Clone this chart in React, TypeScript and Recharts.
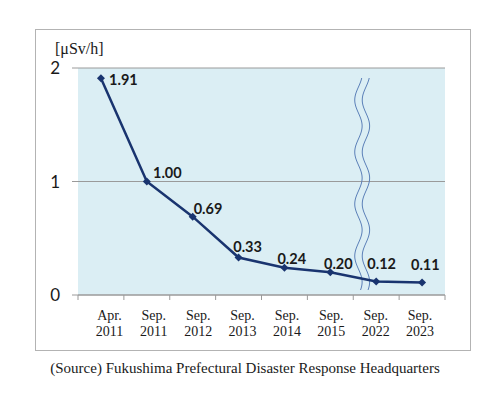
import React from 'react';
import {
  LineChart, Line, XAxis, YAxis, CartesianGrid, LabelList, ReferenceLine
} from 'recharts';

const months = ['Apr.', 'Sep.', 'Sep.', 'Sep.', 'Sep.', 'Sep.', 'Sep.', 'Sep.'];
const years = ['2011', '2011', '2012', '2013', '2014', '2015', '2022', '2023'];
const doseRates = [1.91, 1.0, 0.69, 0.33, 0.24, 0.2, 0.12, 0.11];
const yTicks = [0, 1, 2];

// hand-placed label offsets (dx, dy) from each point, like the original
const labelOffsets = [
  [22.5, 1], [20.5, -9], [15.3, -8], [9, -10.6],
  [7.3, -9], [8, -9], [5.5, -18], [3.3, -18.4],
];

const data = months.map((m, i) => ({ name: `${m} ${years[i]}`, value: doseRates[i] }));

const W = 499;
const H = 406;
const margin = { top: 68, right: 54, left: 38, bottom: 66 };
const Y_AXIS_W = 40;
const X_AXIS_H = 45;
const AXIS_Y = H - margin.bottom - X_AXIS_H;
const PLOT_W = W - margin.left - margin.right - Y_AXIS_W;
const BAND = PLOT_W / data.length;

const SERIF = '"Liberation Serif", "Times New Roman", serif';
const SANS = 'Lato, "Noto Sans", sans-serif';
const NAVY = '#19346f';
const GRID = '#9a9a9a';

const XTick = (props: any) => {
  const { x } = props;
  const i = props.index ?? props.payload?.index ?? 0;
  const dx = 8.5 - 1.5 * i;
  const left = x - BAND / 2;
  return (
    <g>
      <line x1={left} x2={left} y1={AXIS_Y} y2={AXIS_Y + 5} stroke={GRID} />
      {i === data.length - 1 && (
        <line x1={x + BAND / 2} x2={x + BAND / 2} y1={AXIS_Y} y2={AXIS_Y + 5} stroke={GRID} />
      )}
      <text textAnchor="middle" fontFamily={SERIF} fontSize={14} fill="#1a1a1a">
        <tspan x={x + dx} y={AXIS_Y + 25}>{months[i]}</tspan>
        <tspan x={x + dx} y={AXIS_Y + 41}>{years[i]}</tspan>
      </text>
    </g>
  );
};

const Diamond = (props: any) => {
  const { cx, cy, index } = props;
  if (cx == null || cy == null) return <g key={`d-${index}`} />;
  const r = 4;
  return (
    <polygon
      key={`d-${index}`}
      points={`${cx},${cy - r} ${cx + r},${cy} ${cx},${cy + r} ${cx - r},${cy}`}
      fill={NAVY}
    />
  );
};

const ValueLabel = (props: any) => {
  const { x, y, value, index } = props;
  const [dx, dy] = labelOffsets[index] || [0, -10];
  return (
    <text
      x={x + dx}
      y={y + dy}
      textAnchor="middle"
      dominantBaseline="central"
      fontFamily={SANS}
      fontWeight="bold"
      fontSize={14.5}
      fill="#1a1a1a"
    >
      {Number(value).toFixed(2)}
    </text>
  );
};

// axis break drawn as two wavy lines just left of "Sep. 2022"
const WaveBreak = (props: any) => {
  const { x1, y1, y2 } = props;
  const top = Math.min(y1, y2) + 10;
  const bottom = Math.max(y1, y2) - 5;
  const cx = x1 - 14;
  const paths = [-3.75, 3.75].map((o) => {
    let d = '';
    for (let y = top; y <= bottom; y += 2) {
      const x = cx + o + 3.7 * Math.sin((2 * Math.PI * (y - top)) / 52 + 2.054);
      d += `${d ? 'L' : 'M'}${x.toFixed(2)},${y} `;
    }
    return d;
  });
  return (
    <g>
      {paths.map((d, k) => (
        <path key={k} d={d} fill="none" stroke="#5b80b8" strokeWidth={1} />
      ))}
    </g>
  );
};

export default function App() {
  return (
    <div style={{ position: 'absolute', left: 0, top: 0, width: W, height: H, background: '#fff' }}>
      <svg width={W} height={H} style={{ position: 'absolute', left: 0, top: 0 }}>
        <rect x={35.5} y={29.5} width={435} height={321} fill="none" stroke="#b3b3b3" />
        <text x={55} y={54} fontFamily={SERIF} fontSize={16} fill="#1a1a1a">[μSv/h]</text>
        <text x={245} y={373} textAnchor="middle" fontFamily={SERIF} fontSize={15} fill="#1a1a1a">
          (Source) Fukushima Prefectural Disaster Response Headquarters
        </text>
      </svg>
      <div style={{ position: 'absolute', left: 0, top: 0 }}>
        <LineChart width={W} height={H} data={data} margin={margin}>
          <CartesianGrid horizontal vertical={false} stroke={GRID} fill="#dbeef4" fillOpacity={1} />
          <XAxis
            dataKey="name"
            height={X_AXIS_H}
            interval={0}
            padding={{ left: BAND / 2, right: BAND / 2 }}
            tickLine={false}
            axisLine={{ stroke: GRID }}
            tick={<XTick />}
          />
          <YAxis
            width={Y_AXIS_W}
            domain={[0, 2]}
            ticks={yTicks}
            axisLine={false}
            tickSize={6}
            tickMargin={12}
            tickLine={{ stroke: GRID }}
            tick={{ fill: '#1a1a1a', fontSize: 17, fontFamily: SANS }}
          />
          <ReferenceLine x={data[6].name} stroke="none" shape={<WaveBreak />} />
          <Line
            dataKey="value"
            stroke={NAVY}
            strokeWidth={2.5}
            dot={<Diamond />}
            activeDot={false}
            isAnimationActive={false}
          >
            <LabelList dataKey="value" content={<ValueLabel />} />
          </Line>
        </LineChart>
      </div>
    </div>
  );
}
